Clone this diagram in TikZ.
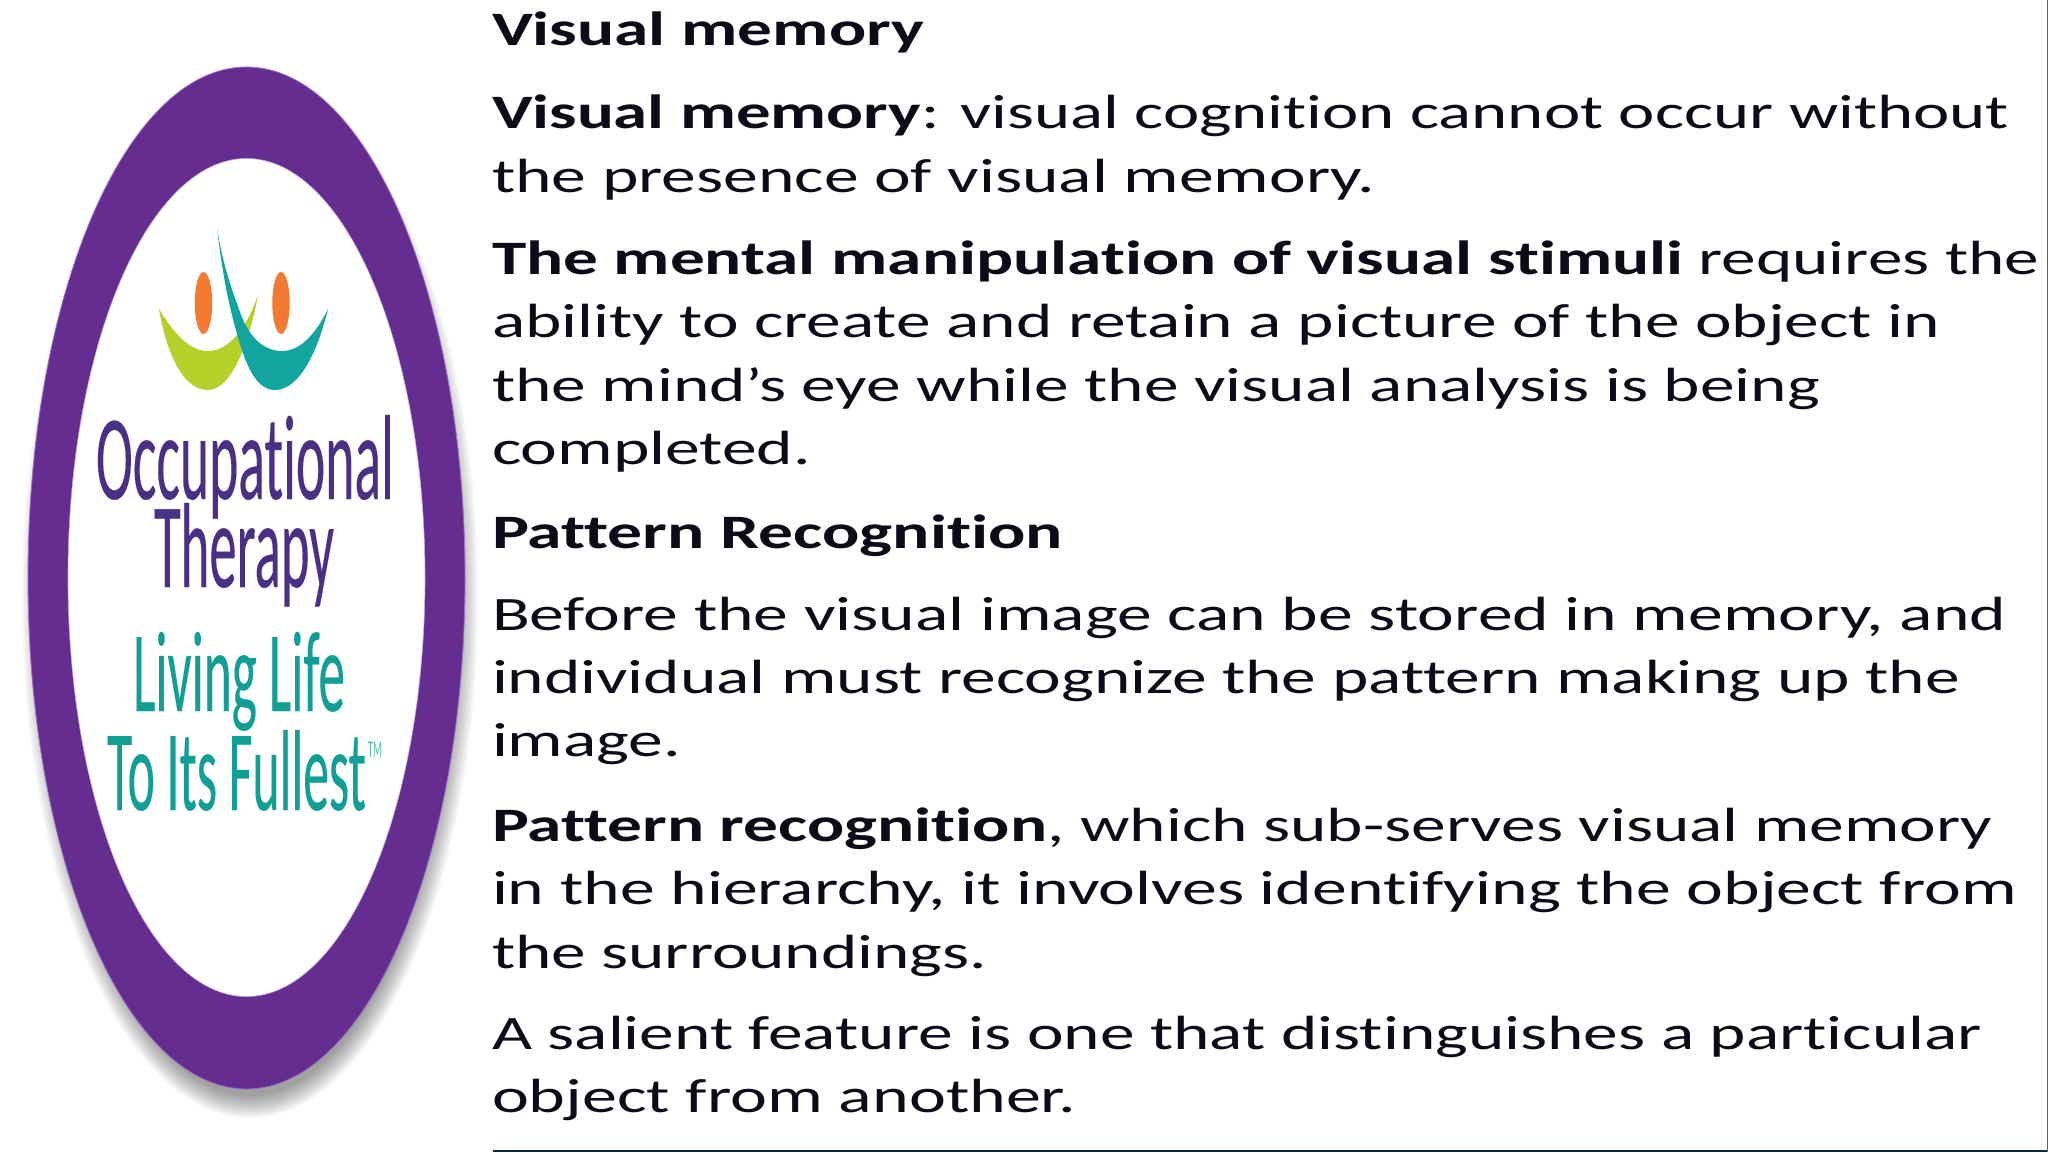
\documentclass[tikz,border=0pt]{standalone}
\usepackage{fontspec}
\usepackage{graphicx}
\setmainfont[Ligatures=NoCommon]{Carlito}
\newfontfamily\logofont[Ligatures=NoCommon,FakeBold=0.25]{Carlito}
\definecolor{ringpurple}{HTML}{662D91}
\definecolor{ringedge}{HTML}{9C6FC4}
\definecolor{otpurple}{HTML}{4A2F85}
\definecolor{otteal}{HTML}{119E94}
\definecolor{smilegreen}{HTML}{B5CF2B}
\definecolor{smileteal}{HTML}{12A5A0}
\definecolor{eyeorange}{HTML}{F47A32}
\definecolor{inkdark}{HTML}{0C0C18}
\definecolor{ruledark}{HTML}{0A2A3A}
\tikzset{
  txt/.style={anchor=base west,inner sep=0pt,outer sep=0pt,text=inkdark,font=\fontsize{48}{50}\selectfont},
  logopurple/.style={anchor=base west,inner sep=0pt,outer sep=0pt,text=otpurple,font=\logofont\fontsize{121}{125}\selectfont},
  logoteal/.style={anchor=base west,inner sep=0pt,outer sep=0pt,text=otteal,font=\logofont\fontsize{115}{118}\selectfont},
  tmark/.style={anchor=base west,inner sep=0pt,outer sep=0pt,text=otteal!70,font=\fontsize{24}{26}\selectfont},
}
% name, left, baseline, right, style, text
\newcommand\fitline[6]{\node[#5] (#1) at (#2,#3) {\resizebox{\dimexpr#4pt-#2pt\relax}{\height}{#6}};}
\begin{document}
\begin{tikzpicture}[x=1pt,y=-1pt]
\useasboundingbox (0,0) rectangle (2048,1152);
\fill[white] (0,0) rectangle (2048,1152);
% shadow
\foreach \r in {0,2,...,22}{
  \fill[black,opacity=0.035] (250,598) ellipse [x radius={206pt+\r pt},y radius={498pt+\r pt}];
}
% ring
\fill[ringpurple,draw=ringedge,line width=0.8pt] (246.5,578) ellipse [x radius=218.5pt,y radius=511pt];
\fill[white,draw=ringedge!60,line width=0.6pt] (246.5,577.5) ellipse [x radius=178.5pt,y radius=419pt];
% logo mark
\fill[eyeorange] (203.5,303) ellipse [x radius=8.7pt,y radius=31pt];
\fill[eyeorange] (281,303) ellipse [x radius=8.7pt,y radius=31pt];
\fill[smilegreen] (159,309) .. controls (175,335) and (190,351) .. (208,351)
  .. controls (228,351) and (246,330) .. (258,295)
  .. controls (250,340) and (232,390) .. (208,390)
  .. controls (180,390) and (165,345) .. (159,309) -- cycle;
\fill[smileteal] (217,228) .. controls (222,270) and (228,305) .. (240,344)
  .. controls (248,370) and (258,390) .. (275,390)
  .. controls (300,390) and (318,350) .. (328,309)
  .. controls (315,335) and (300,351) .. (282,351)
  .. controls (262,351) and (248,335) .. (240,312)
  .. controls (230,285) and (222,260) .. (217,228) -- cycle;
% logo text
\fitline{occ}{96}{499}{394}{logopurple}{Occupational}
\fitline{ther}{154}{587}{334}{logopurple}{Therapy}
\fitline{liv}{133}{711}{345}{logoteal}{Living Life}
\fitline{full}{107}{810}{366}{logoteal}{To Its Fullest}
\fitline{tm}{368}{757}{382}{tmark}{TM}
% text lines
\fitline{l1}{492}{45}{924}{txt}{\textbf{Visual memory}}
\fitline{l2}{492}{128}{2009}{txt}{\textbf{Visual memory}: visual cognition cannot occur without}
\fitline{l3}{492}{192}{1375}{txt}{the presence of visual memory.}
\fitline{l4}{492}{274}{2039}{txt}{\textbf{The mental manipulation of visual stimuli} requires the}
\fitline{l5}{492}{337}{1940}{txt}{ability to create and retain a picture of the object in}
\fitline{l6}{492}{401}{1820}{txt}{the mind’s eye while the visual analysis is being}
\fitline{l7}{492}{464}{811}{txt}{completed.}
\fitline{l8}{492}{548}{1063}{txt}{\textbf{Pattern Recognition}}
\fitline{l9}{492}{630}{2006}{txt}{Before the visual image can be stored in memory, and}
\fitline{l10}{492}{693}{1960}{txt}{individual must recognize the pattern making up the}
\fitline{l11}{492}{756}{681}{txt}{image.}
\fitline{l12}{492}{841}{1992}{txt}{\textbf{Pattern recognition}, which sub-serves visual memory}
\fitline{l13}{492}{904}{2017}{txt}{in the hierarchy, it involves identifying the object from}
\fitline{l14}{492}{968}{987}{txt}{the surroundings.}
\fitline{l15}{492}{1049}{1982}{txt}{A salient feature is one that distinguishes a particular}
\fitline{l16}{492}{1112}{1076}{txt}{object from another.}
% rules at the edges
\fill[ruledark] (493,1150) rectangle (2048,1152);
\fill[ruledark!70] (2046.8,0) rectangle (2048,1152);
\end{tikzpicture}
\end{document}
